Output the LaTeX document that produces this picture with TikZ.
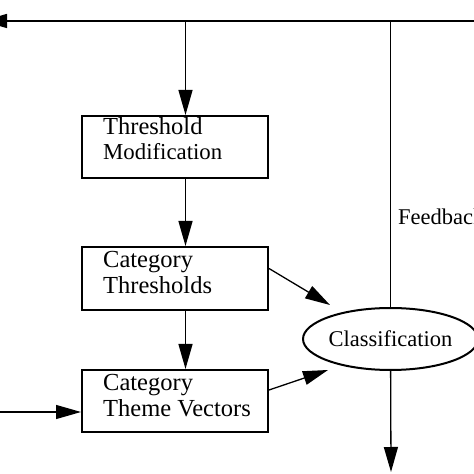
\documentclass[tikz,border=0pt]{standalone}
\usepackage{fontspec}
\setmainfont{Liberation Serif}
\usetikzlibrary{arrows.meta, positioning, shapes.geometric}

\begin{document}
\begin{tikzpicture}[x=1pt, y=1pt,
    box/.style={rectangle, draw, line width=2pt, minimum width=186pt, minimum height=62pt, inner sep=0pt},
    boxtext/.style={anchor=north west, align=left, inner sep=0pt, font=\fontsize{24.5}{26}\selectfont},
    arrow/.style={-{Triangle[length=25pt, width=14pt]}, line width=1.3pt},
    line/.style={line width=1.3pt}]

    \useasboundingbox (0,0) rectangle (474,474);

    % Nodes
    \node[box] (thrmod) at (175,327) {};
    \node[box, minimum height=63pt] (catthr) at (175,195.5) {};
    \node[box] (catvec) at (175,73) {};
    \node[ellipse, draw, line width=2pt, minimum width=165pt, minimum height=62pt, inner sep=0pt,
          font=\fontsize{22.5}{24}\selectfont] (classif) at (390.5,135) {Classification};

    % Texts inside the boxes
    \node[boxtext] (thrmodtext) at ([xshift=22pt, yshift=-2pt]thrmod.north west)
        {Threshold\\[-1pt]{\fontsize{22.8}{25}\selectfont Modification}};
    \node[boxtext] (catthrtext) at ([xshift=22pt, yshift=-5pt]catthr.north west) {Category\\Thresholds};
    \node[boxtext] (catvectext) at ([xshift=22pt, yshift=-5pt]catvec.north west) {Category\\Theme Vectors};

    % Free ends
    \coordinate (leftend) at (-18,453);
    \coordinate (rightend) at (480,453);
    \coordinate (split) at (185.5,453);
    \coordinate (fbtop) at (classif.north |- rightend);
    \coordinate (inlet) at (0,62);
    \coordinate (outlet) at (391,2);
    \coordinate (catthrtip) at (330,169);
    \coordinate (catvectip) at (328,104);

    % Arrows
    \draw[arrow] (rightend) -- (leftend);
    \draw[arrow] (split) -- (split |- thrmod.north);
    \draw[arrow] ([xshift=10.5pt]thrmod.south) -- ([xshift=10.5pt]catthr.north);
    \draw[arrow] ([xshift=10.5pt]catthr.south) -- ([xshift=10.5pt]catvec.north);
    \draw[line] (fbtop) -- node[pos=0.71, anchor=base west, inner sep=0pt, xshift=7pt,
        font=\fontsize{22.5}{24}\selectfont] (fblabel) {Feedback} (classif);
    \draw[arrow] (classif) -- (outlet);
    \draw[arrow] (inlet) -- ([yshift=-11pt]catvec.west);
    \draw[arrow] ([yshift=10pt]catthr.east) -- (catthrtip);
    \draw[arrow] ([yshift=11pt]catvec.east) -- (catvectip);

\end{tikzpicture}
\end{document}
